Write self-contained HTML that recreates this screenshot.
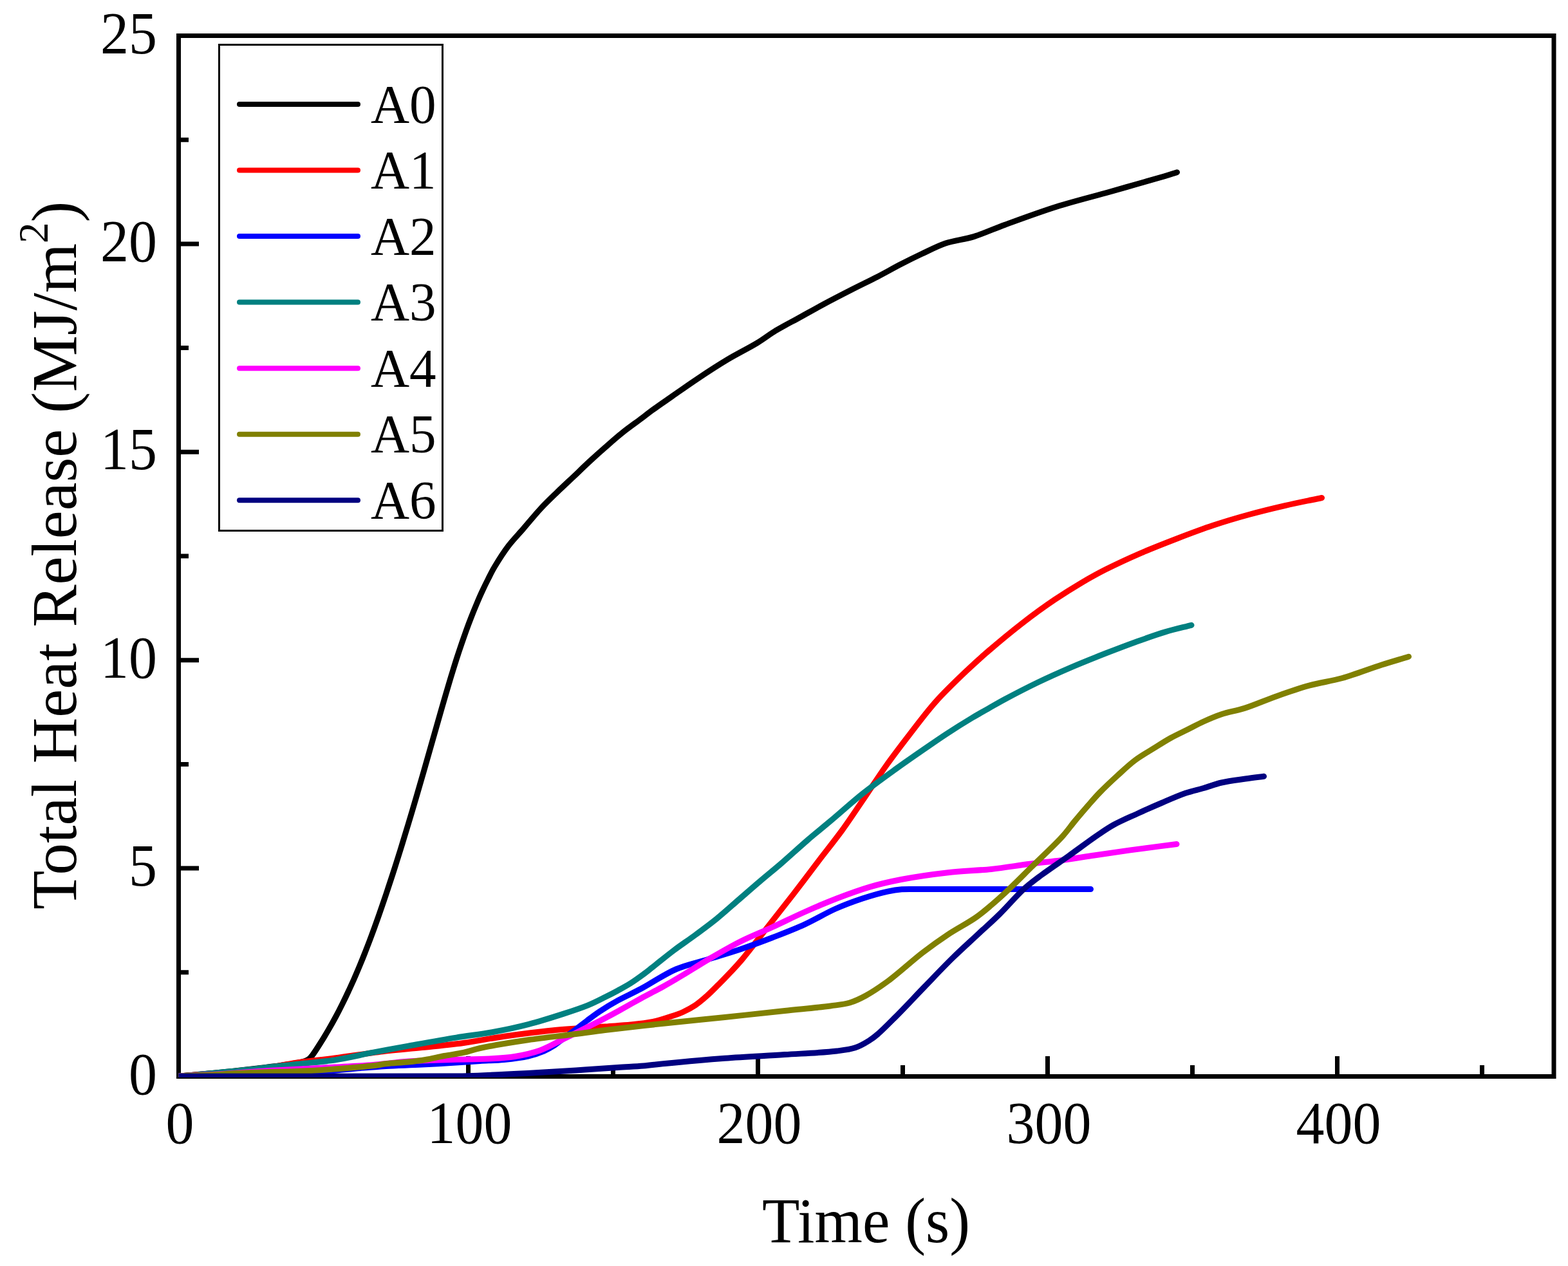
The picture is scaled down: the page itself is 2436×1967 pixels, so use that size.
<!DOCTYPE html>
<html><head><meta charset="utf-8"><title>Total Heat Release</title>
<style>html,body{margin:0;padding:0;background:#fff;}svg{display:block;}text{font-family:"Liberation Serif","Times New Roman",serif;fill:#000;}</style>
</head><body>
<svg width="2436" height="1967" viewBox="0 0 2436 1967">
<rect width="2436" height="1967" fill="#fff"/>
<path d="M277.5,1672.5 V1641 M502.5,1672.5 V1655 M727.5,1672.5 V1641 M952.5,1672.5 V1655 M1177.5,1672.5 V1641 M1402.5,1672.5 V1655 M1627.5,1672.5 V1641 M1852.5,1672.5 V1655 M2077.5,1672.5 V1641 M2302.5,1672.5 V1655 M277.5,1672.5 H309 M277.5,1349.1 H309 M277.5,1025.7 H309 M277.5,702.3 H309 M277.5,378.9 H309 M277.5,55.5 H309 M277.5,1510.8 H293 M277.5,1187.4 H293 M277.5,864.0 H293 M277.5,540.6 H293 M277.5,217.2 H293" stroke="#000" stroke-width="7" fill="none"/>
<rect x="277.5" y="55.5" width="2136.5" height="1617.0" fill="none" stroke="#000" stroke-width="7"/>
<defs><clipPath id="c"><rect x="277.5" y="55.5" width="2136.5" height="1618.5"/></clipPath></defs>
<g clip-path="url(#c)" fill="none" stroke-width="9" stroke-linecap="round" stroke-linejoin="round">
<path d="M277.5,1672.0 C295.0,1670.5 311.3,1669.4 330.0,1667.6 C351.7,1665.5 379.1,1662.5 400.0,1660.0 C416.9,1658.0 432.6,1656.2 446.0,1654.0 C456.5,1652.3 467.9,1650.8 474.0,1648.5 C477.2,1647.3 479.1,1646.0 481.0,1644.5 C482.6,1643.2 483.4,1642.1 485.0,1640.0 C488.2,1635.8 494.0,1626.7 498.2,1620.0 C502.4,1613.4 506.4,1606.7 510.3,1600.0 C514.2,1593.4 517.9,1586.7 521.5,1580.0 C525.1,1573.4 528.5,1566.7 531.8,1560.0 C535.1,1553.4 538.3,1546.7 541.4,1540.0 C544.5,1533.3 547.6,1526.7 550.5,1520.0 C553.4,1513.4 556.2,1506.7 559.0,1500.0 C561.8,1493.3 564.5,1486.7 567.1,1480.0 C569.7,1473.3 572.3,1466.7 574.8,1460.0 C577.3,1453.3 579.8,1446.7 582.2,1440.0 C584.6,1433.3 587.0,1426.7 589.3,1420.0 C591.6,1413.3 593.9,1406.7 596.2,1400.0 C598.5,1393.3 600.7,1386.7 602.9,1380.0 C605.1,1373.3 607.3,1366.7 609.5,1360.0 C611.7,1353.3 613.8,1346.7 615.9,1340.0 C618.0,1333.3 620.1,1326.7 622.2,1320.0 C624.3,1313.3 626.3,1306.7 628.3,1300.0 C630.3,1293.3 632.4,1286.7 634.4,1280.0 C636.4,1273.3 638.4,1266.7 640.4,1260.0 C642.4,1253.3 644.3,1246.7 646.3,1240.0 C648.2,1233.3 650.2,1226.7 652.1,1220.0 C654.0,1213.3 656.0,1206.7 657.9,1200.0 C659.8,1193.3 661.7,1186.7 663.6,1180.0 C665.5,1173.3 667.4,1166.7 669.3,1160.0 C671.2,1153.3 673.1,1146.7 675.0,1140.0 C676.9,1133.3 678.8,1126.7 680.7,1120.0 C682.6,1113.3 684.5,1106.7 686.4,1100.0 C688.3,1093.3 690.3,1086.7 692.2,1080.0 C694.2,1073.3 696.1,1066.7 698.1,1060.0 C700.1,1053.3 702.1,1046.7 704.2,1040.0 C706.3,1033.3 708.3,1026.7 710.5,1020.0 C712.7,1013.3 714.9,1006.7 717.2,1000.0 C719.5,993.3 721.8,986.7 724.2,980.0 C726.6,973.3 729.1,966.6 731.7,960.0 C734.3,953.3 737.0,946.6 739.8,940.0 C742.6,933.3 745.4,926.6 748.5,920.0 C751.6,913.3 754.8,906.6 758.2,900.0 C761.6,893.3 764.4,887.3 768.8,880.0 C774.5,870.5 782.5,857.9 790.0,848.0 C797.1,838.6 804.7,831.1 812.6,822.0 C821.3,811.9 830.9,800.0 840.0,790.2 C848.4,781.1 856.8,773.2 865.3,765.0 C873.7,756.8 882.2,749.0 890.7,741.0 C899.1,733.0 907.5,724.8 916.0,716.9 C924.4,709.1 932.9,701.5 941.4,694.1 C949.8,686.7 958.1,679.3 966.7,672.5 C975.1,665.8 983.6,659.8 992.1,653.5 C1000.5,647.2 1008.9,640.6 1017.4,634.5 C1025.8,628.4 1033.3,623.4 1042.8,616.8 C1054.8,608.4 1069.5,597.8 1083.7,588.4 C1098.6,578.4 1114.6,568.0 1130.2,558.6 C1145.6,549.4 1163.3,540.8 1176.7,532.6 C1187.4,526.1 1194.6,520.1 1204.7,514.0 C1216.1,507.1 1229.5,500.3 1241.9,493.5 C1254.3,486.7 1265.9,480.0 1279.0,473.0 C1293.6,465.2 1310.9,456.3 1325.6,448.8 C1338.7,442.1 1350.4,436.6 1362.8,430.2 C1375.2,423.8 1388.1,416.4 1400.0,410.3 C1410.9,404.7 1420.4,400.0 1431.4,394.8 C1443.3,389.2 1455.8,382.5 1469.0,378.0 C1482.9,373.3 1498.1,372.2 1513.0,367.6 C1528.9,362.7 1543.1,355.8 1561.3,349.2 C1584.7,340.7 1614.9,329.5 1641.9,321.0 C1668.7,312.6 1700.3,304.8 1722.6,298.5 C1738.4,294.1 1749.5,290.8 1762.9,287.0 C1776.3,283.2 1791.3,279.0 1803.2,275.5 C1812.6,272.7 1820.1,270.3 1828.5,267.7" stroke="#000000"/>
<path d="M277.5,1672.0 C295.0,1670.6 311.9,1669.4 330.0,1667.8 C349.3,1666.1 374.0,1663.7 390.0,1662.0 C400.6,1660.9 406.6,1660.4 416.5,1659.0 C429.2,1657.2 444.3,1653.6 460.0,1651.3 C478.4,1648.6 498.6,1646.8 520.0,1644.0 C544.8,1640.8 575.7,1635.8 600.0,1633.0 C620.2,1630.6 636.6,1629.6 655.8,1627.6 C676.5,1625.5 698.7,1623.4 720.0,1620.5 C741.2,1617.6 761.3,1613.4 783.3,1610.2 C807.1,1606.8 832.2,1603.4 857.7,1600.9 C884.4,1598.3 917.5,1596.7 940.0,1595.0 C955.7,1593.8 967.2,1593.3 980.0,1592.0 C991.9,1590.8 1003.9,1589.6 1014.4,1587.4 C1023.6,1585.5 1031.9,1582.6 1040.0,1580.0 C1047.4,1577.6 1054.2,1575.5 1060.9,1572.5 C1067.5,1569.5 1073.9,1566.1 1080.0,1562.0 C1086.3,1557.8 1092.2,1552.6 1098.1,1547.4 C1104.2,1542.0 1110.0,1536.0 1116.0,1530.0 C1122.4,1523.7 1129.0,1516.9 1135.3,1510.2 C1141.5,1503.6 1146.4,1498.4 1153.5,1490.0 C1164.3,1477.2 1179.7,1456.7 1192.8,1440.0 C1205.9,1423.3 1219.1,1406.7 1232.0,1390.0 C1244.8,1373.4 1257.3,1356.7 1270.0,1340.0 C1282.7,1323.3 1296.1,1306.7 1308.3,1290.0 C1320.1,1273.7 1330.7,1257.5 1342.0,1241.0 C1353.5,1224.2 1364.5,1206.8 1376.5,1190.0 C1388.5,1173.1 1401.2,1156.6 1414.0,1140.0 C1427.0,1123.2 1439.4,1106.3 1454.0,1090.0 C1469.3,1072.9 1489.2,1054.1 1504.0,1040.0 C1515.4,1029.2 1523.2,1022.2 1535.0,1012.0 C1550.0,999.1 1569.5,982.8 1587.0,969.2 C1604.1,956.0 1622.3,942.7 1638.8,931.6 C1653.2,921.9 1666.5,913.6 1680.0,905.6 C1692.6,898.2 1703.4,892.1 1717.2,885.1 C1733.8,876.7 1754.3,867.2 1773.0,859.1 C1791.5,851.1 1810.1,843.9 1828.8,836.7 C1847.4,829.6 1866.0,822.5 1884.7,816.3 C1903.2,810.1 1921.8,804.6 1940.5,799.5 C1959.0,794.4 1977.5,789.9 1996.3,785.6 C2015.2,781.2 2034.4,777.5 2053.5,773.5" stroke="#ff0000"/>
<path d="M277.5,1672.0 C318.3,1671.0 361.2,1670.2 400.0,1669.0 C435.0,1667.9 470.9,1666.9 500.0,1665.0 C522.6,1663.5 542.0,1661.0 560.0,1659.5 C574.7,1658.3 585.6,1657.4 600.0,1656.5 C617.0,1655.5 636.6,1655.1 655.8,1654.1 C676.5,1653.0 703.4,1651.2 720.0,1650.2 C730.6,1649.5 736.6,1649.1 746.0,1648.5 C757.2,1647.8 770.7,1647.7 783.0,1646.5 C795.5,1645.2 809.4,1643.6 820.5,1641.0 C829.6,1638.9 837.9,1636.0 845.0,1633.0 C850.7,1630.6 855.0,1628.2 860.0,1625.0 C865.4,1621.6 870.4,1617.1 876.0,1613.0 C882.0,1608.5 888.7,1603.8 894.9,1599.1 C901.0,1594.5 906.8,1589.6 913.0,1585.0 C919.2,1580.3 925.0,1575.9 932.1,1571.2 C940.4,1565.7 950.0,1559.9 960.0,1554.4 C971.1,1548.3 982.7,1543.3 995.8,1536.3 C1012.1,1527.6 1031.9,1513.8 1050.0,1506.0 C1066.6,1498.9 1083.3,1495.7 1100.0,1490.5 C1116.7,1485.3 1133.4,1480.6 1150.0,1475.0 C1166.7,1469.4 1183.4,1463.2 1200.0,1456.8 C1216.7,1450.3 1233.7,1443.9 1250.0,1436.4 C1266.3,1428.9 1282.4,1418.9 1298.0,1412.0 C1312.3,1405.7 1326.1,1400.6 1340.0,1396.0 C1353.2,1391.7 1367.9,1387.5 1379.1,1385.1 C1387.3,1383.3 1393.0,1382.4 1400.8,1381.8 C1409.8,1381.1 1415.4,1381.6 1430.0,1381.5 C1474.0,1381.3 1606.3,1381.5 1694.5,1381.5" stroke="#0000ff"/>
<path d="M277.5,1672.0 C284.8,1671.5 291.4,1671.2 299.3,1670.5 C308.7,1669.7 319.8,1668.4 330.0,1667.4 C340.1,1666.4 350.0,1665.6 360.0,1664.6 C370.0,1663.6 380.3,1662.6 390.0,1661.5 C399.1,1660.5 406.6,1659.4 416.5,1658.3 C429.2,1656.8 444.3,1655.2 460.0,1653.5 C478.4,1651.5 500.1,1650.0 520.0,1647.0 C540.1,1643.9 560.5,1638.9 580.0,1635.2 C598.6,1631.7 614.8,1628.6 634.4,1625.1 C657.3,1621.0 685.7,1615.8 708.8,1612.1 C728.7,1608.9 746.1,1607.1 764.7,1603.7 C783.4,1600.3 802.0,1596.4 820.5,1591.6 C839.2,1586.8 859.6,1580.3 876.3,1574.9 C890.0,1570.5 902.3,1566.5 913.5,1561.9 C923.2,1557.9 931.8,1553.4 940.0,1549.3 C947.2,1545.8 953.4,1542.6 960.0,1539.0 C966.7,1535.3 973.4,1531.7 980.0,1527.5 C986.8,1523.2 994.0,1517.9 1000.0,1513.5 C1005.0,1509.8 1008.0,1507.3 1013.5,1503.0 C1022.2,1496.2 1035.7,1485.0 1047.0,1476.5 C1058.1,1468.2 1069.4,1460.7 1080.5,1452.5 C1091.7,1444.2 1103.0,1436.0 1114.0,1427.0 C1125.3,1417.8 1136.3,1407.7 1147.5,1398.0 C1158.7,1388.3 1169.8,1378.5 1181.0,1369.0 C1192.1,1359.5 1202.8,1351.0 1214.4,1341.0 C1227.3,1329.8 1241.9,1316.3 1255.0,1305.0 C1267.0,1294.7 1277.3,1286.5 1290.0,1275.8 C1305.2,1263.0 1323.1,1246.7 1340.0,1233.2 C1356.5,1220.1 1373.2,1208.1 1390.0,1196.0 C1406.6,1184.0 1425.3,1171.1 1440.0,1161.0 C1451.5,1153.1 1460.0,1147.2 1471.0,1140.0 C1483.2,1132.0 1498.3,1122.5 1510.0,1115.5 C1519.4,1109.9 1527.1,1105.6 1535.6,1100.8 C1544.1,1096.0 1551.0,1091.9 1561.0,1086.5 C1575.2,1078.9 1595.5,1068.4 1612.9,1060.0 C1630.1,1051.7 1647.3,1044.1 1664.7,1036.6 C1682.1,1029.2 1700.2,1022.0 1717.2,1015.3 C1733.1,1009.1 1748.2,1003.3 1763.7,997.7 C1779.2,992.2 1795.1,986.4 1810.2,981.9 C1824.2,977.7 1837.4,974.8 1851.0,971.3" stroke="#008080"/>
<path d="M277.5,1672.0 C295.0,1671.2 314.7,1670.4 330.0,1669.5 C342.0,1668.8 349.9,1668.2 362.0,1667.4 C377.8,1666.3 399.4,1664.5 416.5,1663.5 C431.8,1662.6 444.3,1662.1 460.0,1661.3 C478.4,1660.3 500.0,1659.1 520.0,1658.0 C540.0,1656.8 560.5,1656.0 580.0,1654.4 C598.6,1652.9 615.4,1650.3 634.4,1649.0 C655.2,1647.6 678.6,1647.2 700.0,1646.5 C720.4,1645.9 742.0,1646.0 760.0,1645.0 C774.7,1644.2 786.8,1643.7 800.0,1641.5 C813.2,1639.3 826.4,1636.5 839.0,1632.0 C851.8,1627.4 863.9,1620.1 876.3,1614.0 C888.7,1607.9 902.2,1601.0 913.5,1595.3 C923.1,1590.5 931.8,1586.2 940.0,1581.9 C947.2,1578.2 952.4,1575.4 960.0,1571.2 C970.2,1565.6 984.0,1557.7 995.8,1551.2 C1007.3,1544.9 1018.9,1539.2 1030.0,1533.0 C1040.6,1527.1 1050.0,1521.5 1060.9,1515.0 C1073.2,1507.6 1086.1,1499.2 1100.0,1491.0 C1115.6,1481.9 1133.1,1471.5 1150.0,1463.0 C1166.5,1454.7 1183.4,1448.2 1200.0,1440.5 C1216.7,1432.8 1233.3,1424.4 1250.0,1417.0 C1266.6,1409.6 1283.1,1402.5 1300.0,1396.0 C1316.9,1389.5 1334.2,1383.1 1351.2,1378.1 C1367.5,1373.3 1382.0,1370.0 1400.0,1366.5 C1421.8,1362.3 1449.0,1358.4 1472.8,1355.7 C1495.6,1353.1 1518.3,1352.7 1540.0,1350.4 C1560.6,1348.2 1580.9,1344.7 1600.0,1342.3 C1617.4,1340.1 1633.4,1338.7 1650.0,1336.5 C1666.7,1334.3 1682.9,1331.5 1700.0,1329.0 C1718.1,1326.3 1736.2,1323.6 1756.0,1320.9 C1778.5,1317.8 1804.0,1314.6 1828.0,1311.5" stroke="#ff00ff"/>
<path d="M277.5,1672.0 C281.0,1671.9 283.3,1671.8 288.0,1671.6 C297.3,1671.2 316.3,1670.7 330.0,1670.0 C343.2,1669.3 355.6,1668.3 369.0,1667.6 C383.2,1666.9 398.1,1666.2 413.0,1665.7 C428.4,1665.2 443.4,1665.2 460.0,1664.5 C478.8,1663.7 500.0,1662.4 520.0,1661.0 C540.0,1659.5 565.4,1657.5 580.0,1655.8 C588.5,1654.8 592.4,1653.7 600.0,1652.8 C609.9,1651.7 623.7,1651.1 634.4,1650.0 C643.8,1649.0 652.0,1648.0 661.0,1646.5 C670.5,1644.9 680.4,1642.3 690.2,1640.5 C700.1,1638.6 710.5,1637.5 720.0,1635.4 C729.0,1633.4 735.0,1630.9 746.0,1628.5 C764.4,1624.5 795.6,1619.5 820.5,1615.8 C845.3,1612.1 873.2,1609.3 894.9,1606.5 C911.8,1604.3 922.3,1602.7 940.0,1600.5 C965.4,1597.4 1002.0,1593.3 1033.0,1590.0 C1064.0,1586.7 1095.0,1583.7 1126.0,1580.5 C1157.0,1577.2 1190.1,1573.6 1219.0,1570.5 C1244.3,1567.8 1271.4,1565.5 1290.0,1563.0 C1302.2,1561.3 1310.6,1560.8 1320.0,1558.0 C1328.9,1555.3 1336.2,1551.8 1345.0,1547.0 C1355.9,1541.1 1367.4,1533.3 1380.0,1524.0 C1396.3,1512.0 1416.9,1492.8 1433.6,1480.0 C1447.5,1469.4 1459.3,1461.0 1472.8,1452.0 C1486.7,1442.8 1503.9,1434.0 1516.0,1425.5 C1525.4,1418.9 1531.8,1413.3 1540.0,1406.4 C1549.0,1398.8 1558.1,1390.5 1567.6,1381.5 C1578.4,1371.4 1589.0,1360.5 1601.2,1348.4 C1616.0,1333.8 1637.8,1313.7 1650.2,1300.0 C1658.6,1290.7 1663.3,1283.5 1670.0,1275.5 C1676.6,1267.5 1683.4,1259.5 1690.0,1252.0 C1696.2,1244.9 1701.5,1238.6 1708.4,1231.5 C1716.6,1223.1 1726.8,1213.5 1736.1,1205.0 C1745.2,1196.7 1754.2,1188.1 1763.7,1181.0 C1772.7,1174.3 1782.1,1169.1 1791.4,1163.3 C1800.6,1157.6 1809.8,1151.6 1819.0,1146.5 C1827.7,1141.7 1836.4,1137.8 1845.0,1133.5 C1853.4,1129.3 1861.4,1124.9 1870.0,1121.0 C1878.9,1117.0 1887.8,1113.1 1897.7,1109.8 C1908.7,1106.1 1920.6,1104.5 1933.4,1100.4 C1948.9,1095.5 1967.1,1087.3 1984.1,1081.4 C2000.9,1075.5 2017.8,1069.6 2034.8,1064.9 C2051.6,1060.3 2068.0,1058.4 2085.5,1053.5 C2105.0,1048.0 2128.0,1038.9 2146.5,1033.0 C2161.8,1028.1 2174.5,1024.5 2188.5,1020.2" stroke="#808000"/>
<path d="M277.5,1672.3 C418.3,1672.2 643.2,1672.3 700.0,1672.0 C714.4,1671.9 715.3,1672.0 727.0,1671.7 C748.7,1671.1 790.7,1669.0 820.0,1667.5 C846.3,1666.1 870.9,1664.6 895.0,1663.0 C917.4,1661.5 940.9,1659.8 960.0,1658.5 C974.9,1657.5 987.3,1657.1 1000.0,1656.0 C1011.5,1655.0 1019.2,1653.8 1033.0,1652.5 C1056.1,1650.2 1095.0,1646.5 1126.0,1644.2 C1157.0,1641.9 1189.1,1640.5 1219.0,1638.6 C1246.9,1636.8 1279.9,1635.5 1300.0,1633.0 C1312.1,1631.5 1320.1,1630.7 1328.8,1627.8 C1336.6,1625.2 1343.9,1620.8 1350.0,1617.0 C1355.1,1613.8 1358.3,1611.4 1363.4,1607.0 C1371.2,1600.4 1381.0,1590.3 1391.3,1580.0 C1404.7,1566.6 1421.6,1548.4 1436.5,1533.0 C1451.1,1517.9 1465.6,1502.5 1480.0,1488.4 C1493.5,1475.2 1507.3,1462.9 1520.0,1451.0 C1531.6,1440.2 1542.1,1431.1 1553.3,1420.0 C1565.5,1408.0 1578.7,1392.2 1590.4,1381.5 C1599.8,1372.9 1607.2,1367.6 1617.4,1360.0 C1629.9,1350.7 1645.6,1340.3 1660.0,1330.1 C1674.9,1319.5 1692.3,1306.3 1705.3,1297.5 C1714.7,1291.1 1720.9,1286.7 1730.2,1281.5 C1741.2,1275.4 1755.0,1269.7 1767.4,1264.0 C1779.8,1258.3 1792.2,1252.8 1804.7,1247.5 C1817.1,1242.2 1830.3,1236.3 1841.9,1232.3 C1851.8,1228.9 1860.7,1227.2 1870.0,1224.5 C1879.3,1221.8 1887.7,1218.3 1897.7,1216.0 C1909.1,1213.3 1923.3,1211.7 1934.9,1210.0 C1945.0,1208.5 1954.0,1207.5 1963.5,1206.3" stroke="#000080"/>
</g>
<rect x="340.5" y="69.5" width="347" height="755" fill="none" stroke="#000" stroke-width="3"/>
<line x1="372" y1="162.0" x2="556" y2="162.0" stroke="#000000" stroke-width="8" stroke-linecap="round"/>
<text x="0" y="0" transform="translate(576,190.5) scale(0.99,1)" font-size="84">A0</text>
<line x1="372" y1="264.6" x2="556" y2="264.6" stroke="#ff0000" stroke-width="8" stroke-linecap="round"/>
<text x="0" y="0" transform="translate(576,293.1) scale(0.99,1)" font-size="84">A1</text>
<line x1="372" y1="367.1" x2="556" y2="367.1" stroke="#0000ff" stroke-width="8" stroke-linecap="round"/>
<text x="0" y="0" transform="translate(576,395.6) scale(0.99,1)" font-size="84">A2</text>
<line x1="372" y1="469.6" x2="556" y2="469.6" stroke="#008080" stroke-width="8" stroke-linecap="round"/>
<text x="0" y="0" transform="translate(576,498.1) scale(0.99,1)" font-size="84">A3</text>
<line x1="372" y1="572.2" x2="556" y2="572.2" stroke="#ff00ff" stroke-width="8" stroke-linecap="round"/>
<text x="0" y="0" transform="translate(576,600.7) scale(0.99,1)" font-size="84">A4</text>
<line x1="372" y1="674.8" x2="556" y2="674.8" stroke="#808000" stroke-width="8" stroke-linecap="round"/>
<text x="0" y="0" transform="translate(576,703.2) scale(0.99,1)" font-size="84">A5</text>
<line x1="372" y1="777.3" x2="556" y2="777.3" stroke="#000080" stroke-width="8" stroke-linecap="round"/>
<text x="0" y="0" transform="translate(576,805.8) scale(0.99,1)" font-size="84">A6</text>
<text transform="translate(244,1699.5) scale(0.945,1)" font-size="93" text-anchor="end">0</text>
<text transform="translate(244,1376.1) scale(0.945,1)" font-size="93" text-anchor="end">5</text>
<text transform="translate(244,1052.7) scale(0.945,1)" font-size="93" text-anchor="end">10</text>
<text transform="translate(244,729.3) scale(0.945,1)" font-size="93" text-anchor="end">15</text>
<text transform="translate(244,405.9) scale(0.945,1)" font-size="93" text-anchor="end">20</text>
<text transform="translate(244,82.5) scale(0.945,1)" font-size="93" text-anchor="end">25</text>
<text transform="translate(279.5,1776) scale(0.945,1)" font-size="93" text-anchor="middle">0</text>
<text transform="translate(729.5,1776) scale(0.945,1)" font-size="93" text-anchor="middle">100</text>
<text transform="translate(1179.5,1776) scale(0.945,1)" font-size="93" text-anchor="middle">200</text>
<text transform="translate(1629.5,1776) scale(0.945,1)" font-size="93" text-anchor="middle">300</text>
<text transform="translate(2079.5,1776) scale(0.945,1)" font-size="93" text-anchor="middle">400</text>
<text transform="translate(1345.5,1930) scale(0.965,1)" font-size="99" text-anchor="middle">Time (s)</text>
<text transform="translate(118,1413) rotate(-90)" font-size="99">Total Heat Release (MJ/m<tspan dy="-44" font-size="65">2</tspan><tspan dy="44">)</tspan></text>
</svg>
</body></html>
